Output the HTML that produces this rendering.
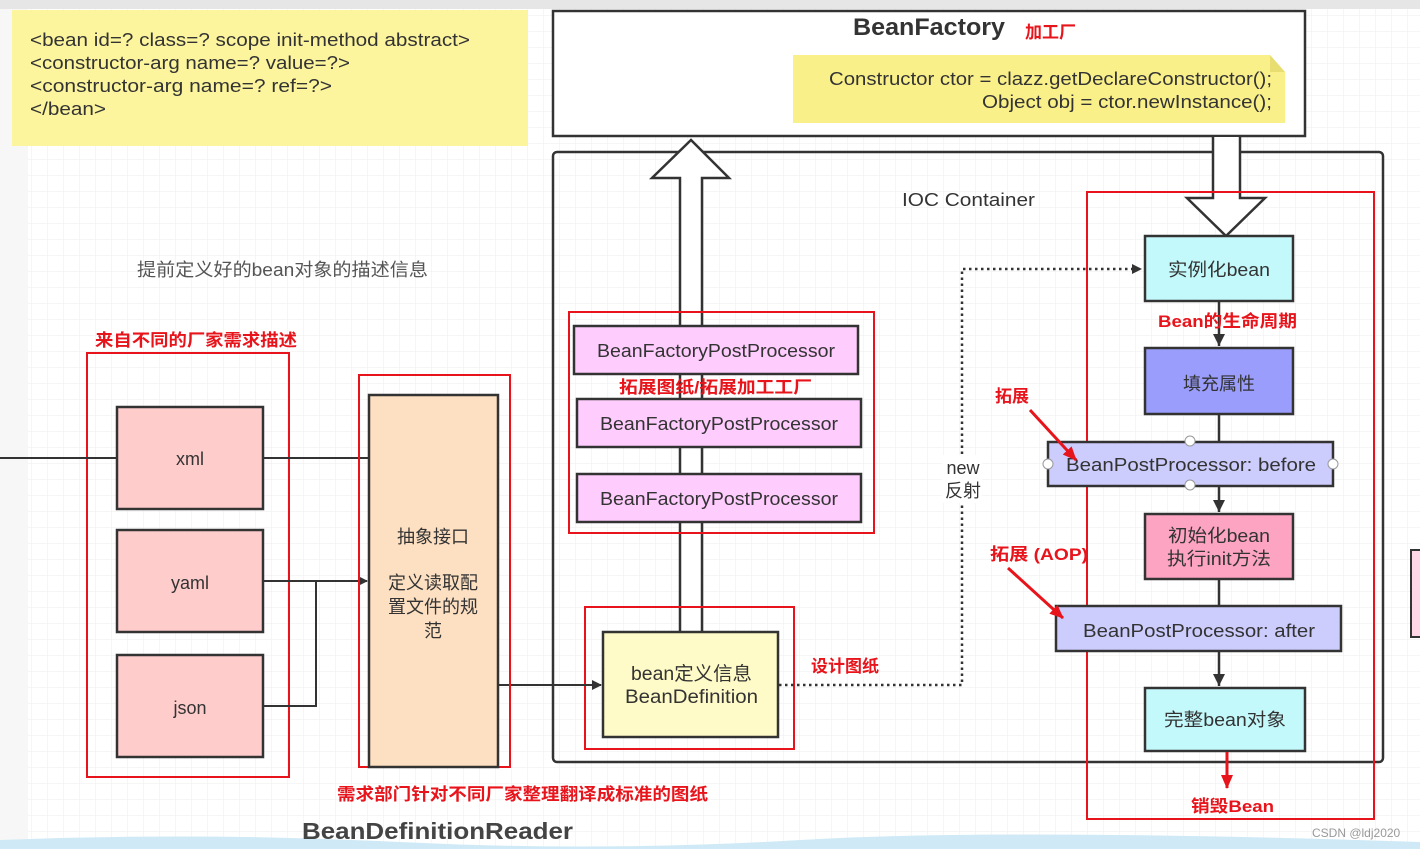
<!DOCTYPE html>
<html><head><meta charset="utf-8"><style>
html,body{margin:0;padding:0;width:1420px;height:849px;overflow:hidden;background:#fff}
svg{display:block}
text{font-family:"Liberation Sans","Noto Sans CJK SC",sans-serif}
</style></head><body>
<svg width="1420" height="849" viewBox="0 0 1420 849" xmlns="http://www.w3.org/2000/svg">
<defs>
<pattern id="g" width="16" height="16" patternUnits="userSpaceOnUse"><path d="M16 0V16H0" fill="none" stroke="#eeeeee" stroke-width="1"/></pattern>
<marker id="a" markerWidth="10" markerHeight="10" refX="9" refY="5" orient="auto" markerUnits="userSpaceOnUse"><path d="M0,0L10,5L0,10z" fill="#333"/></marker>
<marker id="r" markerWidth="14" markerHeight="12" refX="13" refY="6" orient="auto" markerUnits="userSpaceOnUse"><path d="M0,0L14,6L0,12z" fill="#e8141c"/></marker>
</defs>
<rect width="1420" height="849" fill="url(#g)"/>
<rect x="0" y="0" width="1420" height="9" fill="#e6e6e6"/>
<rect x="0" y="9" width="28" height="840" fill="#f7f7f7"/>
<!-- top note -->
<rect x="12" y="10" width="516" height="136" fill="#fcf59d"/>
<g font-size="18" fill="#333" lengthAdjust="spacingAndGlyphs">
<text x="30" y="46" textLength="440" lengthAdjust="spacingAndGlyphs">&lt;bean id=? class=? scope init-method  abstract&gt;</text>
<text x="30" y="69" textLength="320" lengthAdjust="spacingAndGlyphs">&lt;constructor-arg name=? value=?&gt;</text>
<text x="30" y="92" textLength="302" lengthAdjust="spacingAndGlyphs">&lt;constructor-arg  name=? ref=?&gt;</text>
<text x="30" y="115" textLength="76" lengthAdjust="spacingAndGlyphs">&lt;/bean&gt;</text>
</g>
<!-- BeanFactory -->
<rect x="553" y="11" width="752" height="125" fill="#fff" stroke="#333" stroke-width="2.5"/>
<text x="853" y="35" font-size="24" font-weight="bold" fill="#333" textLength="152" lengthAdjust="spacingAndGlyphs">BeanFactory</text>
<text x="1025" y="38" font-size="17" font-weight="bold" fill="#e8141c">加工厂</text>
<path d="M793,55H1270L1285,72V123H793z" fill="#faf08a"/>
<path d="M1270,55V72H1285" fill="#e8dd70"/>
<g font-size="18" fill="#333"><text x="829" y="85" textLength="443" lengthAdjust="spacingAndGlyphs">Constructor ctor = clazz.getDeclareConstructor();</text><text x="982" y="108" textLength="290" lengthAdjust="spacingAndGlyphs">Object obj = ctor.newInstance();</text></g>
<!-- IOC -->
<rect x="553" y="152" width="830" height="610" rx="4" fill="none" stroke="#333" stroke-width="2.5"/>
<text x="902" y="206" font-size="18" fill="#333" textLength="133" lengthAdjust="spacingAndGlyphs">IOC  Container</text>
<!-- up hollow arrow -->
<path d="M680,632V178H652L691,140L729,178H702V632" fill="#fff" stroke="#333" stroke-width="2.5"/>
<!-- down hollow arrow -->
<path d="M1213,137V198H1187L1226,236L1265,198H1240V137" fill="#fff" stroke="#333" stroke-width="2.5"/>
<!-- BFPP -->
<rect x="569" y="312" width="305" height="221" fill="none" stroke="#e8141c" stroke-width="2"/>
<g fill="#ffccfe" stroke="#333" stroke-width="2.5">
<rect x="574" y="326" width="284" height="48"/><rect x="577" y="399" width="284" height="48"/><rect x="577" y="474" width="284" height="48"/></g>
<g font-size="18" fill="#333"><text x="597" y="357" textLength="238" lengthAdjust="spacingAndGlyphs">BeanFactoryPostProcessor</text><text x="600" y="430" textLength="238" lengthAdjust="spacingAndGlyphs">BeanFactoryPostProcessor</text><text x="600" y="505" textLength="238" lengthAdjust="spacingAndGlyphs">BeanFactoryPostProcessor</text></g>
<text x="619" y="393" font-size="17" font-weight="bold" fill="#e8141c" textLength="193" lengthAdjust="spacingAndGlyphs">拓展图纸/拓展加工工厂</text>
<!-- BeanDefinition -->
<rect x="585" y="607" width="209" height="142" fill="none" stroke="#e8141c" stroke-width="2"/>
<rect x="603" y="632" width="175" height="105" fill="#fffbc8" stroke="#333" stroke-width="2.5"/>
<g font-size="19" fill="#333"><text x="631" y="680" textLength="121" lengthAdjust="spacingAndGlyphs">bean定义信息</text><text x="625" y="703" textLength="133" lengthAdjust="spacingAndGlyphs">BeanDefinition</text></g>
<text x="811" y="672" font-size="17" font-weight="bold" fill="#e8141c">设计图纸</text>
<path d="M779,685H962V269H1141" fill="none" stroke="#333" stroke-width="2.5" stroke-dasharray="2.5,3.5" marker-end="url(#a)"/>
<rect x="942" y="455" width="40" height="48" fill="#fff"/>
<g font-size="18" fill="#333" text-anchor="middle"><text x="963" y="474">new</text><text x="963" y="497">反射</text></g>
<!-- lifecycle -->
<rect x="1087" y="192" width="287" height="627" fill="none" stroke="#e8141c" stroke-width="2"/>
<path d="M1219,301V346M1219,414V442M1219,486V512M1219,579V606M1219,651V686" stroke="#333" stroke-width="2.5" fill="none"/>
<path d="M1213,334L1219,346L1225,334z M1213,500L1219,512L1225,500z M1213,674L1219,686L1225,674z" fill="#333"/>
<rect x="1145" y="236" width="148" height="65" fill="#c4f9fc" stroke="#333" stroke-width="2.5"/>
<rect x="1145" y="348" width="148" height="66" fill="#9a9dfb" stroke="#333" stroke-width="2.5"/>
<rect x="1048" y="442" width="285" height="44" fill="#ccccfd" stroke="#333" stroke-width="2.5"/>
<rect x="1145" y="514" width="148" height="65" fill="#fca4c2" stroke="#333" stroke-width="2.5"/>
<rect x="1056" y="606" width="285" height="45" fill="#ccccfd" stroke="#333" stroke-width="2.5"/>
<rect x="1145" y="688" width="160" height="63" fill="#c4f9fc" stroke="#333" stroke-width="2.5"/>
<g fill="#fff" stroke="#999" stroke-width="1"><circle cx="1190" cy="441" r="5"/><circle cx="1190" cy="485" r="5"/><circle cx="1048" cy="464" r="5"/><circle cx="1333" cy="464" r="5"/></g>
<g font-size="18" fill="#333">
<text x="1168" y="276" textLength="102" lengthAdjust="spacingAndGlyphs">实例化bean</text><text x="1183" y="390">填充属性</text>
<text x="1066" y="471" textLength="250" lengthAdjust="spacingAndGlyphs">BeanPostProcessor: before</text>
<text x="1168" y="542" textLength="102" lengthAdjust="spacingAndGlyphs">初始化bean</text><text x="1167" y="565" textLength="104" lengthAdjust="spacingAndGlyphs">执行init方法</text>
<text x="1083" y="637" textLength="232" lengthAdjust="spacingAndGlyphs">BeanPostProcessor:  after</text>
<text x="1164" y="726" textLength="122" lengthAdjust="spacingAndGlyphs">完整bean对象</text></g>
<text x="1158" y="327" font-size="17" font-weight="bold" fill="#e8141c" textLength="139" lengthAdjust="spacingAndGlyphs">Bean的生命周期</text>
<path d="M1227,752V788" stroke="#e8141c" stroke-width="3" marker-end="url(#r)"/>
<text x="1191" y="812" font-size="17" font-weight="bold" fill="#e8141c" textLength="83" lengthAdjust="spacingAndGlyphs">销毁Bean</text>
<text x="995" y="402" font-size="17" font-weight="bold" fill="#e8141c">拓展</text>
<path d="M1030,410L1076,460" stroke="#e8141c" stroke-width="3" marker-end="url(#r)"/>
<text x="990" y="560" font-size="17" font-weight="bold" fill="#e8141c" textLength="98" lengthAdjust="spacingAndGlyphs">拓展 (AOP)</text>
<path d="M1008,568L1063,618" stroke="#e8141c" stroke-width="3" marker-end="url(#r)"/>
<rect x="1411" y="550" width="12" height="87" fill="#ffd6e6" stroke="#333" stroke-width="2"/>
<!-- left -->
<text x="137" y="276" font-size="18" fill="#555" textLength="291" lengthAdjust="spacingAndGlyphs">提前定义好的bean对象的描述信息</text>
<text x="95" y="346" font-size="17" font-weight="bold" fill="#e8141c" textLength="202" lengthAdjust="spacingAndGlyphs">来自不同的厂家需求描述</text>
<rect x="87" y="353" width="202" height="424" fill="none" stroke="#e8141c" stroke-width="2"/>
<path d="M0,458H117M263,458H369M263,706H316V581" stroke="#333" stroke-width="2" fill="none"/>
<path d="M263,581H367" stroke="#333" stroke-width="2" marker-end="url(#a)"/>
<path d="M498,685H601" stroke="#333" stroke-width="2" marker-end="url(#a)"/>
<g fill="#ffcccc" stroke="#333" stroke-width="2.5"><rect x="117" y="407" width="146" height="102"/><rect x="117" y="530" width="146" height="102"/><rect x="117" y="655" width="146" height="102"/></g>
<g font-size="18" fill="#333" text-anchor="middle"><text x="190" y="465">xml</text><text x="190" y="589">yaml</text><text x="190" y="714">json</text></g>
<rect x="359" y="375" width="151" height="392" fill="none" stroke="#e8141c" stroke-width="2"/>
<rect x="369" y="395" width="129" height="372" fill="#fde0c2" stroke="#333" stroke-width="2.5"/>
<g font-size="18" fill="#333" text-anchor="middle"><text x="433" y="543">抽象接口</text><text x="433" y="589">定义读取配</text><text x="433" y="613">置文件的规</text><text x="433" y="637">范</text></g>
<text x="337" y="800" font-size="17" font-weight="bold" fill="#e8141c" textLength="371" lengthAdjust="spacingAndGlyphs">需求部门针对不同厂家整理翻译成标准的图纸</text>
<path d="M0,840Q200,832 400,842T800,840T1420,842V849H0z" fill="#cfeaf6"/>
<text x="302" y="839" font-size="23" font-weight="bold" fill="#444" textLength="271" lengthAdjust="spacingAndGlyphs">BeanDefinitionReader</text>
<text x="1312" y="837" font-size="12" fill="#999">CSDN @ldj2020</text>
</svg>
</body></html>
